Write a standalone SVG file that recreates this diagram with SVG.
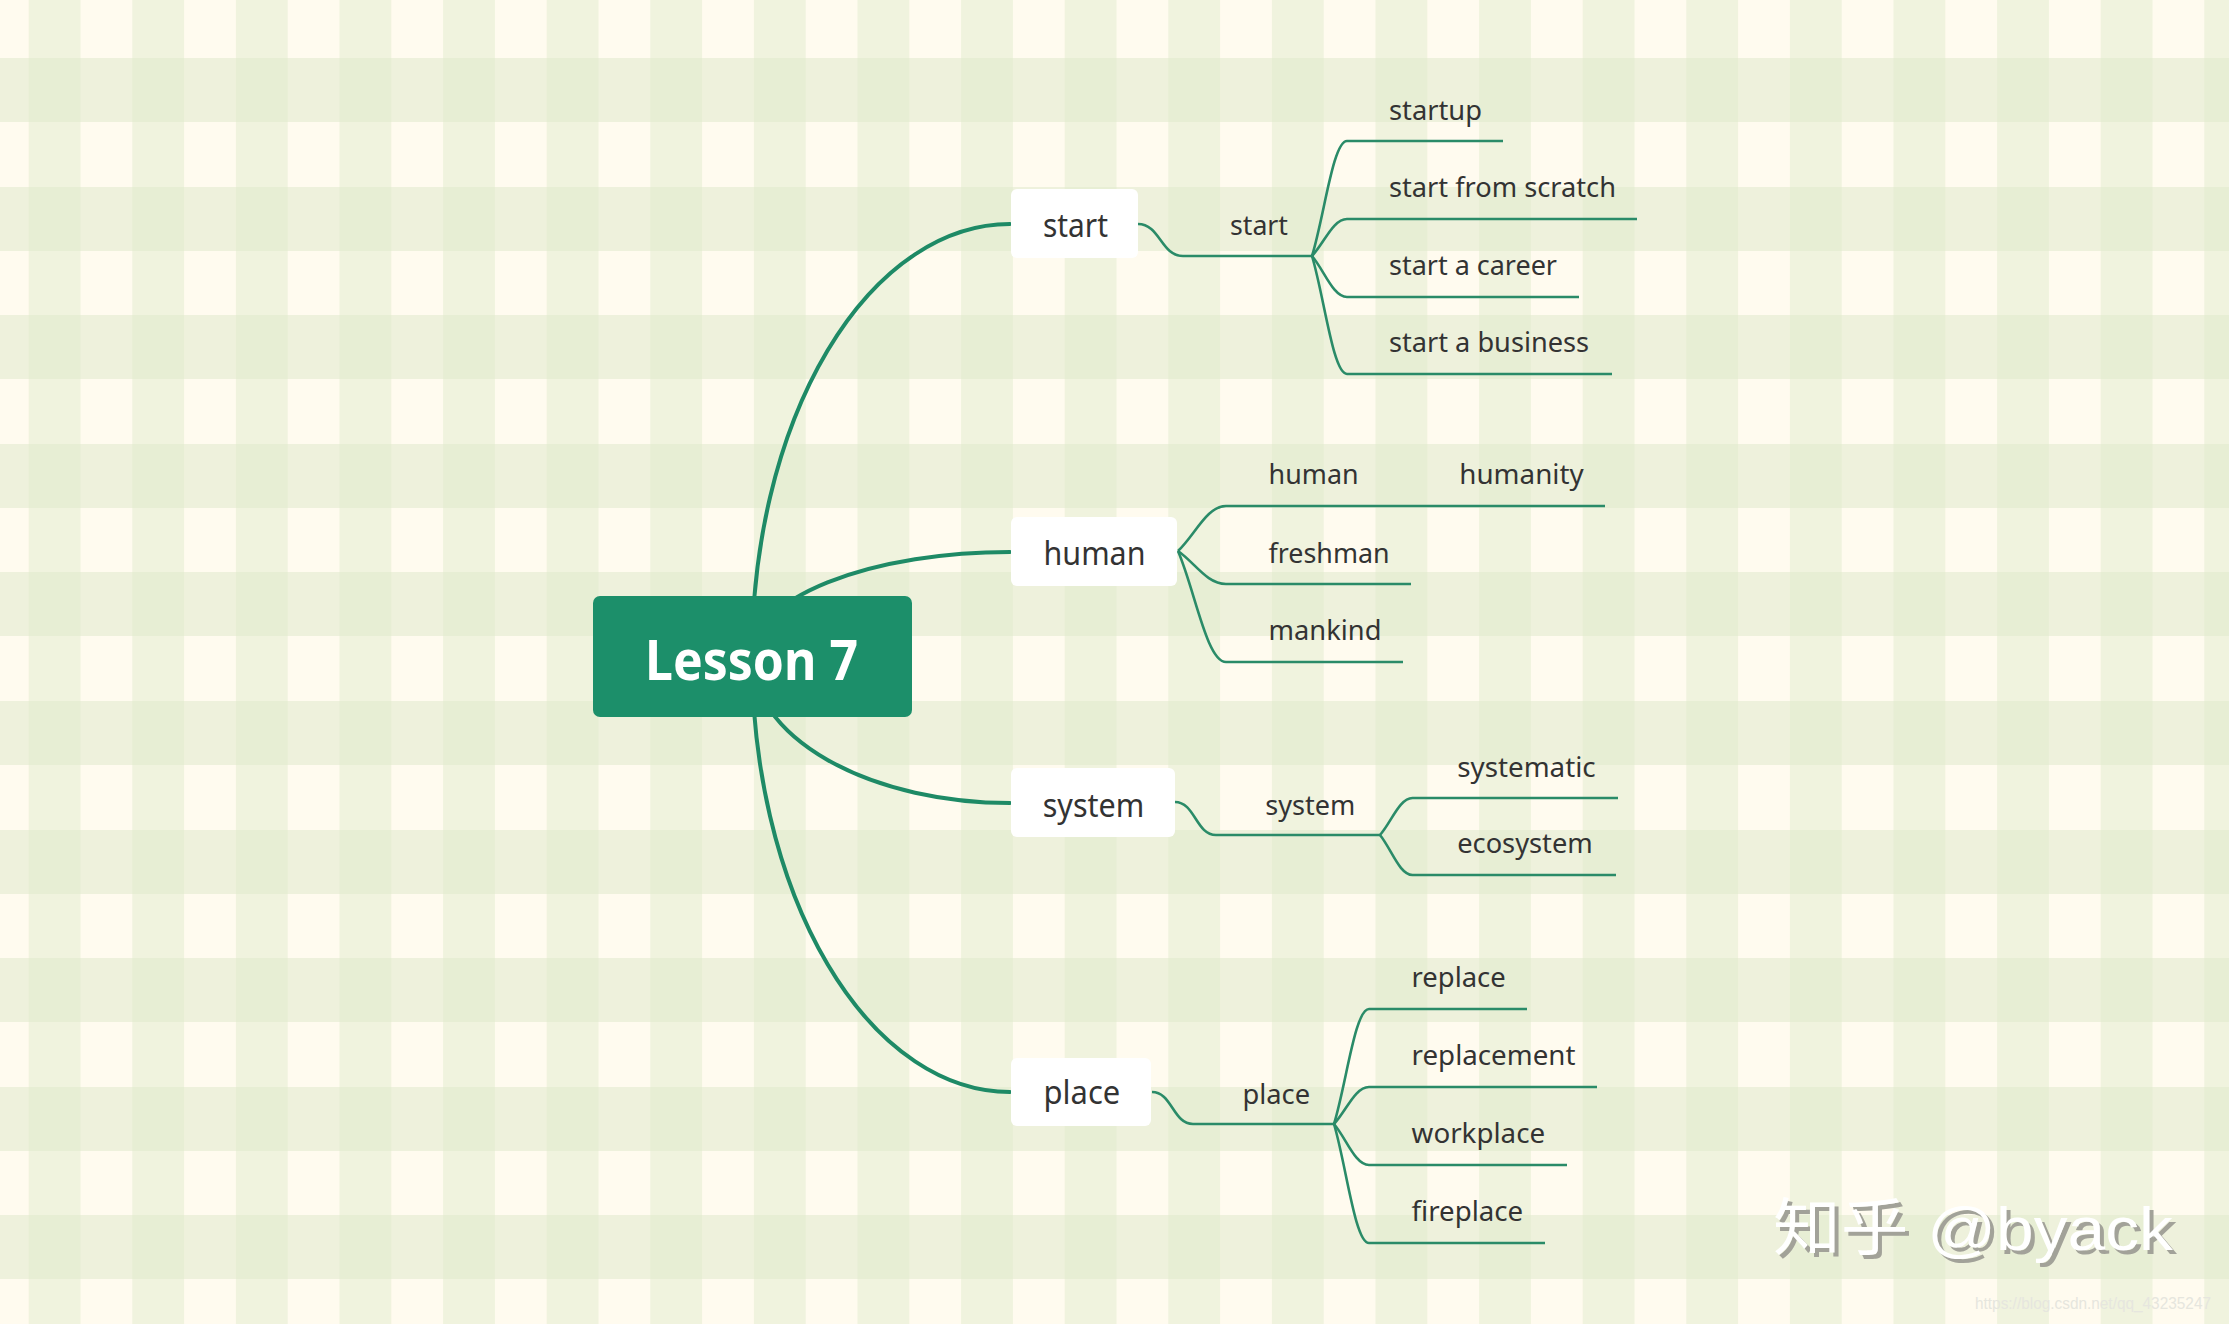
<svg xmlns="http://www.w3.org/2000/svg" width="2229" height="1324" viewBox="0 0 2229 1324">
<style>
.v{fill:#e4edd0;fill-opacity:.55}
.h{fill:#e0eacc;fill-opacity:.55}
.main{fill:none;stroke:#1e8a66;stroke-width:4;stroke-linecap:round}
.sub{fill:none;stroke:#2a8b68;stroke-width:2.6}
.box{fill:#ffffff}
.t1{font-family:"Noto Sans","Open Sans",sans-serif;font-size:33px;fill:#333333}
.t2{font-family:"Noto Sans","Open Sans",sans-serif;font-size:27.5px;fill:#333333}
.root{font-family:"Noto Sans","Open Sans",sans-serif;font-size:55px;font-weight:700;fill:#ffffff}
.wm{font-family:"Liberation Sans","Noto Sans CJK SC",sans-serif;font-size:62px}
</style>
<rect x="0" y="0" width="2229" height="1324" fill="#fffbef"/>
<g id="bg-columns">
<rect class="v" x="28.7" y="0" width="51.8" height="1324"/>
<rect class="v" x="132.3" y="0" width="51.8" height="1324"/>
<rect class="v" x="235.9" y="0" width="51.8" height="1324"/>
<rect class="v" x="339.5" y="0" width="51.8" height="1324"/>
<rect class="v" x="443.1" y="0" width="51.8" height="1324"/>
<rect class="v" x="546.7" y="0" width="51.8" height="1324"/>
<rect class="v" x="650.3" y="0" width="51.8" height="1324"/>
<rect class="v" x="753.9" y="0" width="51.8" height="1324"/>
<rect class="v" x="857.5" y="0" width="51.8" height="1324"/>
<rect class="v" x="961.1" y="0" width="51.8" height="1324"/>
<rect class="v" x="1064.7" y="0" width="51.8" height="1324"/>
<rect class="v" x="1168.3" y="0" width="51.8" height="1324"/>
<rect class="v" x="1271.9" y="0" width="51.8" height="1324"/>
<rect class="v" x="1375.5" y="0" width="51.8" height="1324"/>
<rect class="v" x="1479.1" y="0" width="51.8" height="1324"/>
<rect class="v" x="1582.7" y="0" width="51.8" height="1324"/>
<rect class="v" x="1686.3" y="0" width="51.8" height="1324"/>
<rect class="v" x="1789.9" y="0" width="51.8" height="1324"/>
<rect class="v" x="1893.5" y="0" width="51.8" height="1324"/>
<rect class="v" x="1997.1" y="0" width="51.8" height="1324"/>
<rect class="v" x="2100.7" y="0" width="51.8" height="1324"/>
<rect class="v" x="2204.3" y="0" width="24.7" height="1324"/>
</g>
<g id="bg-rows">
<rect class="h" x="0" y="58" width="2229" height="64"/>
<rect class="h" x="0" y="187" width="2229" height="64"/>
<rect class="h" x="0" y="315" width="2229" height="64"/>
<rect class="h" x="0" y="444" width="2229" height="64"/>
<rect class="h" x="0" y="572" width="2229" height="64"/>
<rect class="h" x="0" y="701" width="2229" height="64"/>
<rect class="h" x="0" y="830" width="2229" height="64"/>
<rect class="h" x="0" y="958" width="2229" height="64"/>
<rect class="h" x="0" y="1087" width="2229" height="64"/>
<rect class="h" x="0" y="1215" width="2229" height="64"/>
</g>
<g id="connectors">
<path class="main" d="M752 656 A258 432 0 0 1 1010 224"/>
<path class="main" d="M752 656 A258 104 0 0 1 1010 552"/>
<path class="main" d="M752 656 A258 147 0 0 0 1010 803"/>
<path class="main" d="M752 656 A258 436 0 0 0 1010 1092"/>
<path class="sub" d="M1138 224 C1160 224 1161 256 1183 256 L1312 256"/>
<path class="sub" d="M1312 256 C1324.3 215.8 1333 141 1347 141 L1503 141"/>
<path class="sub" d="M1312 256 C1324.3 243 1333 219 1347 219 L1637 219"/>
<path class="sub" d="M1312 256 C1324.3 270.4 1333 297 1347 297 L1579 297"/>
<path class="sub" d="M1312 256 C1324.3 297.3 1333 374 1347 374 L1612 374"/>
<path class="sub" d="M1178 551 C1194.8 535.3 1206.8 506 1226 506 L1400 506"/>
<path class="sub" d="M1400 506 L1605 506"/>
<path class="sub" d="M1178 551 C1194.8 562.6 1206.8 584 1226 584 L1411 584"/>
<path class="sub" d="M1178 551 C1194.8 589.9 1206.8 662 1226 662 L1403 662"/>
<path class="sub" d="M1175 802 C1195 802 1196 835 1216 835 L1380 835"/>
<path class="sub" d="M1380 835 C1391.4 822 1399.5 798 1412.5 798 L1618 798"/>
<path class="sub" d="M1380 835 C1391.4 849 1399.5 875 1412.5 875 L1616 875"/>
<path class="sub" d="M1152 1092 C1172 1092 1173 1124 1193 1124 L1334 1124"/>
<path class="sub" d="M1334 1124 C1346.3 1083.8 1355 1009 1369 1009 L1527 1009"/>
<path class="sub" d="M1334 1124 C1346.3 1111 1355 1087 1369 1087 L1597 1087"/>
<path class="sub" d="M1334 1124 C1346.3 1138.4 1355 1165 1369 1165 L1567 1165"/>
<path class="sub" d="M1334 1124 C1346.3 1165.7 1355 1243 1369 1243 L1545 1243"/>
</g>
<g id="root">
<rect x="593" y="596" width="319" height="121" rx="7" fill="#1c8f6a"/>
<text class="root" x="645" y="680" textLength="213" lengthAdjust="spacingAndGlyphs">Lesson 7</text>
</g>
<g id="node-start">
<rect class="box" x="1011" y="189" width="127" height="69" rx="6"/>
<text class="t1" x="1043" y="237" textLength="65" lengthAdjust="spacingAndGlyphs">start</text>
</g>
<g id="node-human">
<rect class="box" x="1011" y="517" width="166" height="69" rx="6"/>
<text class="t1" x="1043.5" y="565" textLength="102" lengthAdjust="spacingAndGlyphs">human</text>
</g>
<g id="node-system">
<rect class="box" x="1011" y="768" width="164" height="69" rx="6"/>
<text class="t1" x="1042.7" y="817" textLength="101.6" lengthAdjust="spacingAndGlyphs">system</text>
</g>
<g id="node-place">
<rect class="box" x="1011" y="1058" width="140" height="68" rx="6"/>
<text class="t1" x="1043.5" y="1104" textLength="76.7" lengthAdjust="spacingAndGlyphs">place</text>
</g>
<g id="node-start-2"><text class="t2" x="1230" y="235" textLength="58" lengthAdjust="spacingAndGlyphs">start</text></g>
<g id="node-startup"><text class="t2" x="1389" y="120" textLength="93" lengthAdjust="spacingAndGlyphs">startup</text></g>
<g id="node-start-from-scratch"><text class="t2" x="1389" y="197" textLength="227" lengthAdjust="spacingAndGlyphs">start from scratch</text></g>
<g id="node-start-a-career"><text class="t2" x="1389" y="275" textLength="168" lengthAdjust="spacingAndGlyphs">start a career</text></g>
<g id="node-start-a-business"><text class="t2" x="1389" y="352" textLength="200" lengthAdjust="spacingAndGlyphs">start a business</text></g>
<g id="node-human-2"><text class="t2" x="1268.6" y="484" textLength="90" lengthAdjust="spacingAndGlyphs">human</text></g>
<g id="node-humanity"><text class="t2" x="1459.3" y="484" textLength="124.4" lengthAdjust="spacingAndGlyphs">humanity</text></g>
<g id="node-freshman"><text class="t2" x="1268.6" y="563" textLength="121" lengthAdjust="spacingAndGlyphs">freshman</text></g>
<g id="node-mankind"><text class="t2" x="1268.6" y="640" textLength="112.8" lengthAdjust="spacingAndGlyphs">mankind</text></g>
<g id="node-system-2"><text class="t2" x="1265.3" y="815" textLength="90" lengthAdjust="spacingAndGlyphs">system</text></g>
<g id="node-systematic"><text class="t2" x="1457.2" y="777" textLength="138.5" lengthAdjust="spacingAndGlyphs">systematic</text></g>
<g id="node-ecosystem"><text class="t2" x="1457.2" y="853" textLength="135.6" lengthAdjust="spacingAndGlyphs">ecosystem</text></g>
<g id="node-place-2"><text class="t2" x="1242.5" y="1104" textLength="67.6" lengthAdjust="spacingAndGlyphs">place</text></g>
<g id="node-replace"><text class="t2" x="1411.6" y="987" textLength="94.1" lengthAdjust="spacingAndGlyphs">replace</text></g>
<g id="node-replacement"><text class="t2" x="1411.6" y="1065" textLength="163.8" lengthAdjust="spacingAndGlyphs">replacement</text></g>
<g id="node-workplace"><text class="t2" x="1411.6" y="1143" textLength="133.5" lengthAdjust="spacingAndGlyphs">workplace</text></g>
<g id="node-fireplace"><text class="t2" x="1411.6" y="1221" textLength="111.6" lengthAdjust="spacingAndGlyphs">fireplace</text></g>
<g id="watermark">
<text class="wm" x="1777" y="1254" textLength="400" lengthAdjust="spacingAndGlyphs" fill="#a2a299">知乎 @byack</text>
<text class="wm" x="1773" y="1250" textLength="400" lengthAdjust="spacingAndGlyphs" fill="#ffffff">知乎 @byack</text>
<text x="1975" y="1309" textLength="236" lengthAdjust="spacingAndGlyphs" font-family="Liberation Sans, sans-serif" font-size="17" fill="#e6e6de">https://blog.csdn.net/qq_43235247</text>
</g>
</svg>
